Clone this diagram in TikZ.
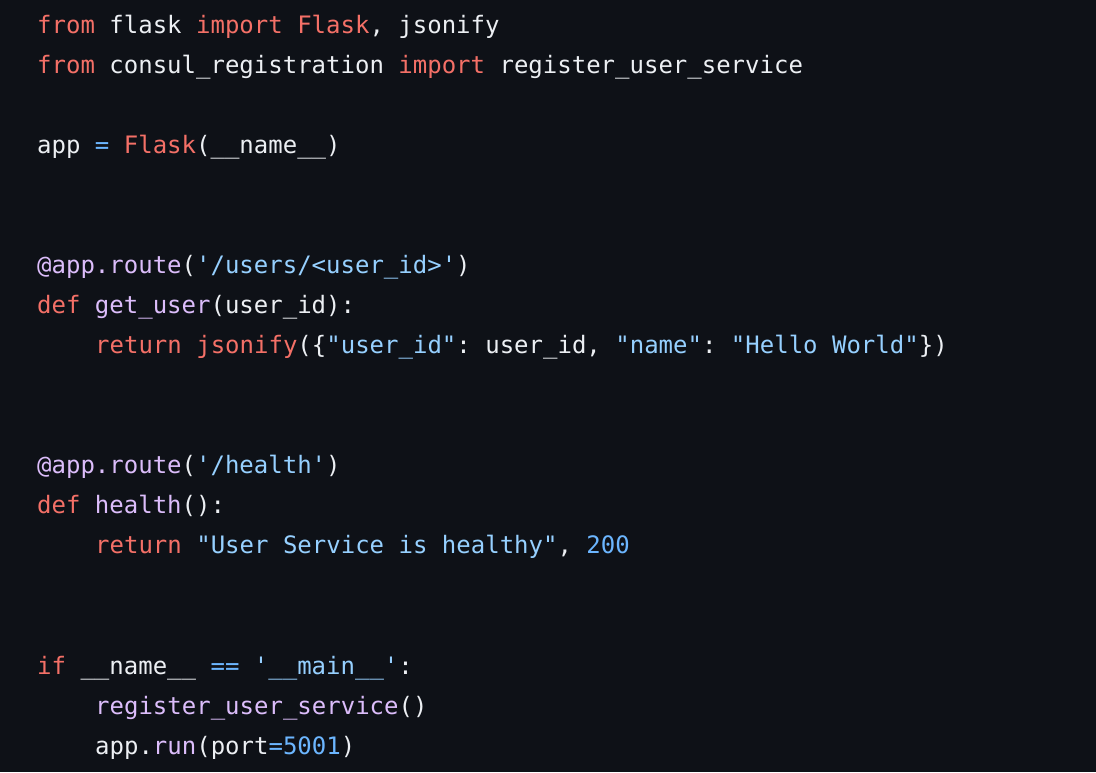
\documentclass[tikz,border=0pt]{standalone}
\usepackage{fontspec}
\newfontfamily\code{DejaVu Sans Mono}
\definecolor{bg}{HTML}{0E1117}
\definecolor{fg}{HTML}{ECEFF3}
\definecolor{kw}{HTML}{F47067}
\definecolor{fn}{HTML}{DCBDFB}
\definecolor{st}{HTML}{96D0FF}
\definecolor{nu}{HTML}{6CB6FF}
\newcommand\K[1]{\textcolor{kw}{#1}}
\newcommand\F[1]{\textcolor{fn}{#1}}
\newcommand\Sx[1]{\textcolor{st}{#1}}
\newcommand\N[1]{\textcolor{nu}{#1}}
\frenchspacing
\begin{document}
\begin{tikzpicture}[x=1pt,y=1pt,
  ln/.style={anchor=base west,inner sep=0pt,text=fg,font=\code\fontsize{24}{24}\selectfont\frenchspacing}]
\fill[bg] (0,0) rectangle (1096,772);
\useasboundingbox (0,0) rectangle (1096,772);
\node[ln] (l1) at (37,772-34) {\K{from} flask \K{import} \K{Flask}, jsonify};
\node[ln] (l2) at (37,772-74) {\K{from} consul\_registration \K{import} register\_user\_service};
\node[ln] (l3) at (37,772-154) {app \N{=} \K{Flask}(\_\_name\_\_)};
\node[ln] (l4) at (37,772-274) {\F{@app.route}(\Sx{'/users/<user\_id>'})};
\node[ln] (l5) at (37,772-314) {\K{def} \F{get\_user}(user\_id):};
\node[ln] (l6) at (95,772-354) {\K{return} \K{jsonify}(\{\Sx{"user\_id"}: user\_id, \Sx{"name"}: \Sx{"Hello World"}\})};
\node[ln] (l7) at (37,772-474) {\F{@app.route}(\Sx{'/health'})};
\node[ln] (l8) at (37,772-514) {\K{def} \F{health}():};
\node[ln] (l9) at (95,772-554) {\K{return} \Sx{"User Service is healthy"}, \N{200}};
\node[ln] (l10) at (37,772-674) {\K{if} \_\_name\_\_ \N{==} \Sx{'\_\_main\_\_'}:};
\node[ln] (l11) at (95,772-714) {\F{register\_user\_service}()};
\node[ln] (l12) at (95,772-754) {app.\F{run}(port\N{=}\N{5001})};
\end{tikzpicture}
\end{document}
